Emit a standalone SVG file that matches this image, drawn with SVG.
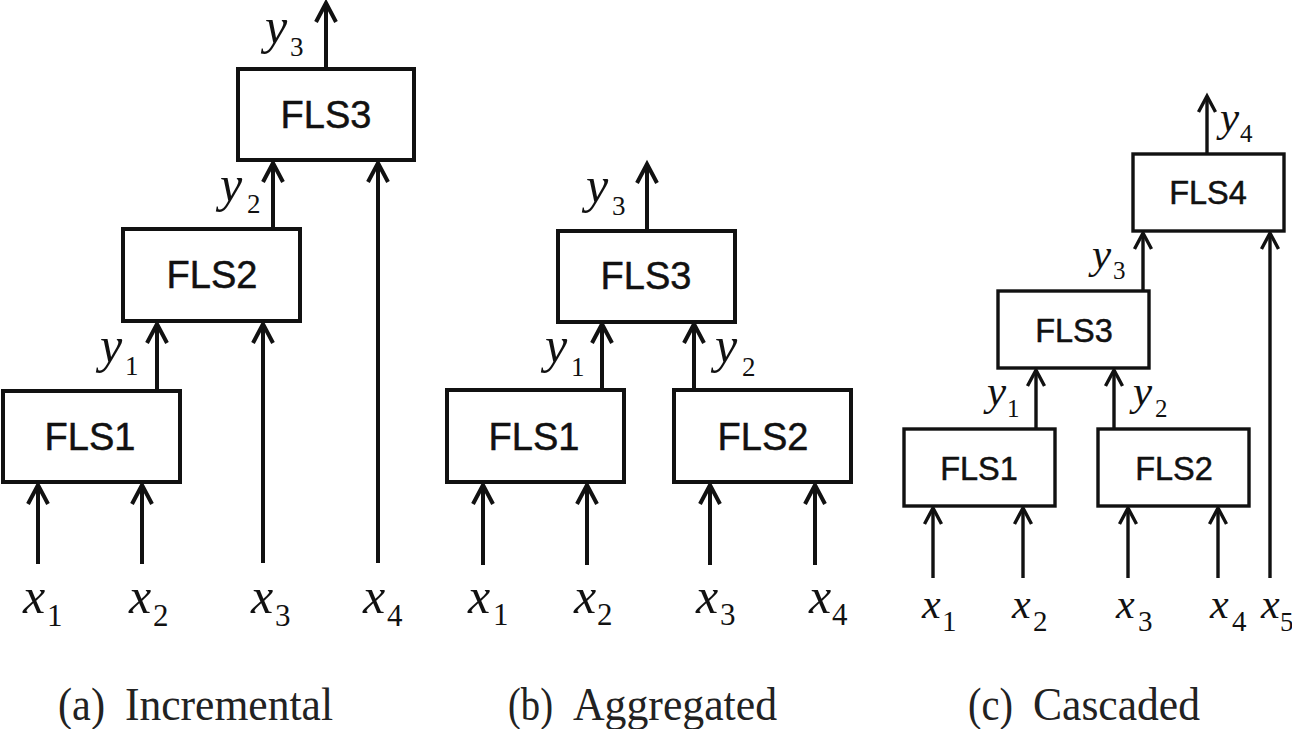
<svg xmlns="http://www.w3.org/2000/svg" width="1292" height="729" viewBox="0 0 1292 729">
<style>
  .box{fill:#fff;stroke:#111;stroke-width:4}
  .boxc{fill:#fff;stroke:#111;stroke-width:3.4}
  .lbl{font-family:"Liberation Sans",Arial,sans-serif;fill:#111;stroke:#111;stroke-width:0.5;text-anchor:middle}
  .big{font-size:38px}
  .sm{font-size:32.5px}
  .math{font-family:"Liberation Serif","Times New Roman",serif;font-style:italic;fill:#111}
  .sub{font-family:"Liberation Serif","Times New Roman",serif;font-style:normal;fill:#111}
  .cap{font-family:"Liberation Serif","Times New Roman",serif;fill:#222;font-size:46px}
  .wire{stroke:#111;stroke-width:4;fill:none;marker-end:url(#arr)}
  .wirec{stroke:#111;stroke-width:3.4;fill:none;marker-end:url(#arrc)}
</style>
<defs>
  <marker id="arr" markerUnits="userSpaceOnUse" viewBox="-24 -14 28 28" markerWidth="28" markerHeight="28" refX="0" refY="0" orient="auto" overflow="visible">
    <path d="M -19 -10 L 0 0 L -19 10" fill="none" stroke="#111" stroke-width="4" stroke-linejoin="miter"/>
  </marker>
  <marker id="arrc" markerUnits="userSpaceOnUse" viewBox="-24 -14 28 28" markerWidth="28" markerHeight="28" refX="0" refY="0" orient="auto" overflow="visible">
    <path d="M -16 -8.5 L 0 0 L -16 8.5" fill="none" stroke="#111" stroke-width="3.4" stroke-linejoin="miter"/>
  </marker>
</defs>
<rect width="1292" height="729" fill="#fff"/>

<g id="connectors">
  <!-- (a) -->
  <line class="wire" x1="38" y1="564" x2="38" y2="485"/>
  <line class="wire" x1="142" y1="564" x2="142" y2="485"/>
  <line class="wire" x1="263" y1="563" x2="263" y2="324"/>
  <line class="wire" x1="378" y1="563" x2="378" y2="163"/>
  <line class="wire" x1="157" y1="391" x2="157" y2="324"/>
  <line class="wire" x1="273" y1="229" x2="273" y2="163"/>
  <line class="wire" x1="326" y1="69" x2="326" y2="3"/>
  <!-- (b) -->
  <line class="wire" x1="483" y1="565" x2="483" y2="485"/>
  <line class="wire" x1="587" y1="565" x2="587" y2="485"/>
  <line class="wire" x1="710" y1="565" x2="710" y2="485"/>
  <line class="wire" x1="815" y1="565" x2="815" y2="485"/>
  <line class="wire" x1="602" y1="390" x2="602" y2="324"/>
  <line class="wire" x1="694" y1="390" x2="694" y2="324"/>
  <line class="wire" x1="647" y1="231" x2="647" y2="164"/>
  <!-- (c) -->
  <line class="wirec" x1="933" y1="578" x2="933" y2="508"/>
  <line class="wirec" x1="1023" y1="578" x2="1023" y2="508"/>
  <line class="wirec" x1="1128" y1="578" x2="1128" y2="508"/>
  <line class="wirec" x1="1218" y1="578" x2="1218" y2="508"/>
  <line class="wirec" x1="1270" y1="578" x2="1270" y2="233"/>
  <line class="wirec" x1="1036" y1="429" x2="1036" y2="370"/>
  <line class="wirec" x1="1114" y1="429" x2="1114" y2="370"/>
  <line class="wirec" x1="1143" y1="291" x2="1143" y2="233"/>
  <line class="wirec" x1="1207" y1="154" x2="1207" y2="96"/>
</g>

<!-- Panel (a) -->
<g id="a-fls1"><rect class="box" x="3" y="391" width="177" height="91"/><text class="lbl big" x="90" y="450">FLS1</text></g>
<g id="a-fls2"><rect class="box" x="123" y="229" width="177" height="92"/><text class="lbl big" x="212" y="288">FLS2</text></g>
<g id="a-fls3"><rect class="box" x="238" y="69" width="176" height="91"/><text class="lbl big" x="326" y="128">FLS3</text></g>

<g id="a-labels">
  <text class="math" font-size="50" x="265" y="43">y</text><text class="sub" font-size="27" x="290" y="56">3</text>
  <text class="math" font-size="50" x="220" y="201">y</text><text class="sub" font-size="27" x="247" y="213">2</text>
  <text class="math" font-size="50" x="100" y="362">y</text><text class="sub" font-size="27" x="125" y="375">1</text>
  <text class="math" font-size="50" x="23" y="613">x</text><text class="sub" font-size="31" x="47" y="626">1</text>
  <text class="math" font-size="50" x="129" y="613">x</text><text class="sub" font-size="31" x="153" y="626">2</text>
  <text class="math" font-size="50" x="251" y="613">x</text><text class="sub" font-size="31" x="275" y="626">3</text>
  <text class="math" font-size="50" x="363" y="613">x</text><text class="sub" font-size="31" x="387" y="626">4</text>
</g>

<!-- Panel (b) -->
<g id="b-fls1"><rect class="box" x="447" y="390" width="177" height="92"/><text class="lbl big" x="534" y="450">FLS1</text></g>
<g id="b-fls2"><rect class="box" x="674" y="390" width="177" height="92"/><text class="lbl big" x="763" y="450">FLS2</text></g>
<g id="b-fls3"><rect class="box" x="558" y="231" width="177" height="91"/><text class="lbl big" x="646" y="289">FLS3</text></g>

<g id="b-labels">
  <text class="math" font-size="50" x="586" y="202">y</text><text class="sub" font-size="27" x="612" y="215">3</text>
  <text class="math" font-size="50" x="545" y="362">y</text><text class="sub" font-size="27" x="571" y="376">1</text>
  <text class="math" font-size="50" x="715" y="362">y</text><text class="sub" font-size="27" x="742" y="376">2</text>
  <text class="math" font-size="50" x="468" y="613">x</text><text class="sub" font-size="31" x="493" y="625">1</text>
  <text class="math" font-size="50" x="574" y="613">x</text><text class="sub" font-size="31" x="597" y="625">2</text>
  <text class="math" font-size="50" x="696" y="613">x</text><text class="sub" font-size="31" x="720" y="625">3</text>
  <text class="math" font-size="50" x="809" y="613">x</text><text class="sub" font-size="31" x="832" y="625">4</text>
</g>

<!-- Panel (c) -->
<g id="c-fls1"><rect class="boxc" x="904" y="429" width="151" height="77"/><text class="lbl sm" x="979" y="480">FLS1</text></g>
<g id="c-fls2"><rect class="boxc" x="1098" y="429" width="151" height="77"/><text class="lbl sm" x="1174" y="480">FLS2</text></g>
<g id="c-fls3"><rect class="boxc" x="998" y="291" width="151" height="77"/><text class="lbl sm" x="1074" y="342">FLS3</text></g>
<g id="c-fls4"><rect class="boxc" x="1133" y="154" width="151" height="77"/><text class="lbl sm" x="1208" y="204">FLS4</text></g>

<g id="c-labels">
  <text class="math" font-size="43" x="1220" y="131">y</text><text class="sub" font-size="25" x="1240" y="142">4</text>
  <text class="math" font-size="43" x="1092" y="268">y</text><text class="sub" font-size="25" x="1113" y="279">3</text>
  <text class="math" font-size="43" x="987" y="405">y</text><text class="sub" font-size="25" x="1007" y="417">1</text>
  <text class="math" font-size="43" x="1133" y="405">y</text><text class="sub" font-size="25" x="1155" y="417">2</text>
  <text class="math" font-size="42" x="922" y="618">x</text><text class="sub" font-size="29" x="942" y="631">1</text>
  <text class="math" font-size="42" x="1012" y="618">x</text><text class="sub" font-size="29" x="1033" y="631">2</text>
  <text class="math" font-size="42" x="1116" y="618">x</text><text class="sub" font-size="29" x="1138" y="631">3</text>
  <text class="math" font-size="42" x="1210" y="618">x</text><text class="sub" font-size="29" x="1232" y="631">4</text>
  <text class="math" font-size="42" x="1261" y="618">x</text><text class="sub" font-size="27" x="1280" y="631">5</text>
</g>

<g id="captions">
  <text class="cap" x="58" y="720" textLength="47" lengthAdjust="spacingAndGlyphs">(a)</text>
  <text class="cap" x="125" y="720" textLength="208" lengthAdjust="spacingAndGlyphs">Incremental</text>
  <text class="cap" x="508" y="720" textLength="45" lengthAdjust="spacingAndGlyphs">(b)</text>
  <text class="cap" x="573" y="720" textLength="204" lengthAdjust="spacingAndGlyphs">Aggregated</text>
  <text class="cap" x="968" y="720" textLength="45" lengthAdjust="spacingAndGlyphs">(c)</text>
  <text class="cap" x="1033" y="720" textLength="167" lengthAdjust="spacingAndGlyphs">Cascaded</text>
</g>
</svg>
